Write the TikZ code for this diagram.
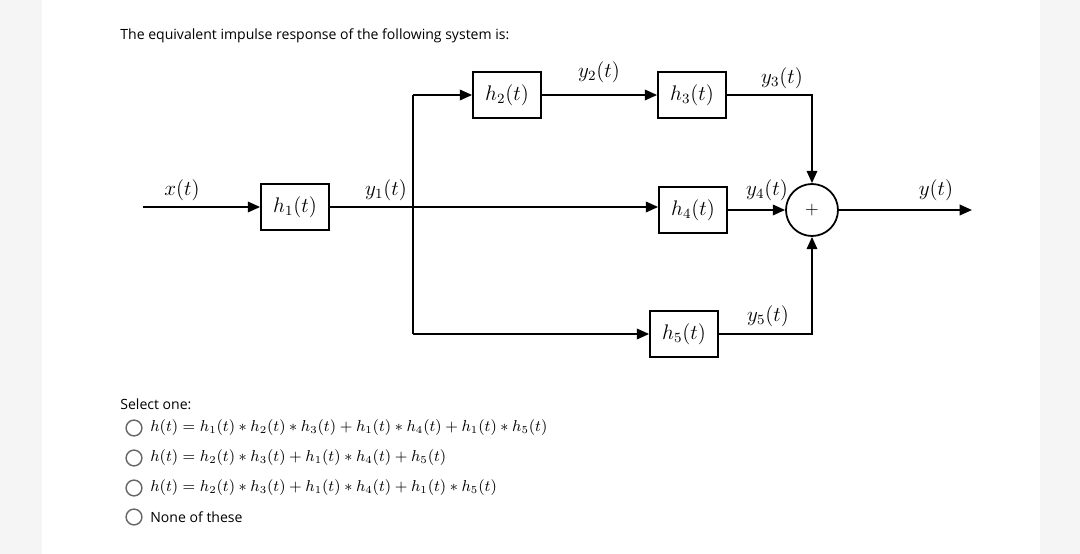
\documentclass[tikz,border=0pt]{standalone}
\usepackage{fontspec}
\setmainfont{Open Sans}
\usepackage{amsmath}
\usetikzlibrary{arrows.meta}
\begin{document}
\begin{tikzpicture}[x=0.02cm,y=-0.02cm,
  blk/.style={draw,line width=1pt,minimum width=68*0.02cm,minimum height=46*0.02cm,inner sep=0pt,font=\large},
  sig/.style={line width=1pt},
  arr/.style={sig,-{Triangle[length=7pt,width=6pt]}},
  lab/.style={font=\large},
  txt/.style={font=\footnotesize,anchor=west,inner sep=0pt},
  opt/.style={draw=gray!80!black,line width=0.8pt,circle,minimum size=9pt,inner sep=0pt}]
\fill[gray!8] (0,0) rectangle (1080,554);
\fill[white] (42,0) rectangle (1040,554);
\node[txt] (title) at (120,36) {The equivalent impulse response of the following system is:};
\node[blk] (h1) at (295,207) {$h_1(t)$};
\node[blk] (h2) at (507,95) {$h_2(t)$};
\node[blk] (h3) at (692,95) {$h_3(t)$};
\node[blk] (h4) at (693,210) {$h_4(t)$};
\node[blk] (h5) at (684,334) {$h_5(t)$};
\node[draw,circle,line width=1pt,minimum size=52*0.02cm,inner sep=0pt] (s) at (812,210) {$+$};
\coordinate (xin) at (143,207);
\coordinate (j) at (413,207);
\coordinate (jt) at (413,95);
\coordinate (jb) at (413,334);
\coordinate (c3) at (812,95);
\coordinate (c5) at (812,334);
\coordinate (yout) at (972,210);
\draw[arr] (xin) -- (h1);
\draw[sig] (h1) -- (j);
\draw[sig] (jt) -- (jb);
\draw[arr] (jt) -- (h2);
\draw[arr] (h2) -- (h3);
\draw[arr] (j) -- (j -| h4.west);
\draw[arr] (jb) -- (h5);
\draw[arr] (h3) -- (c3) -- (s);
\draw[arr] (h4) -- (s);
\draw[arr] (h5) -- (c5) -- (s);
\draw[arr] (s) -- (yout);
\node[lab] (lx) at (182,190) {$x(t)$};
\node[lab] (l1) at (386,190) {$y_1(t)$};
\node[lab] (l2) at (599,72) {$y_2(t)$};
\node[lab] (l3) at (782,78) {$y_3(t)$};
\node[lab] (l4) at (767,190) {$y_4(t)$};
\node[lab] (l5) at (768,316) {$y_5(t)$};
\node[lab] (ly) at (936,190) {$y(t)$};
\node[txt] (sel) at (120,404) {Select one:};
\node[opt] (o1) at (134,428) {};
\node[opt] (o2) at (134,458) {};
\node[opt] (o3) at (134,488) {};
\node[opt] (o4) at (134,517) {};
\node[txt] (t1) at (150,428) {\small$h(t)=h_1(t)*h_2(t)*h_3(t)+h_1(t)*h_4(t)+h_1(t)*h_5(t)$};
\node[txt] (t2) at (150,458) {\small$h(t)=h_2(t)*h_3(t)+h_1(t)*h_4(t)+h_5(t)$};
\node[txt] (t3) at (150,488) {\small$h(t)=h_2(t)*h_3(t)+h_1(t)*h_4(t)+h_1(t)*h_5(t)$};
\node[txt] (t4) at (150,517) {None of these};
\end{tikzpicture}
\end{document}
